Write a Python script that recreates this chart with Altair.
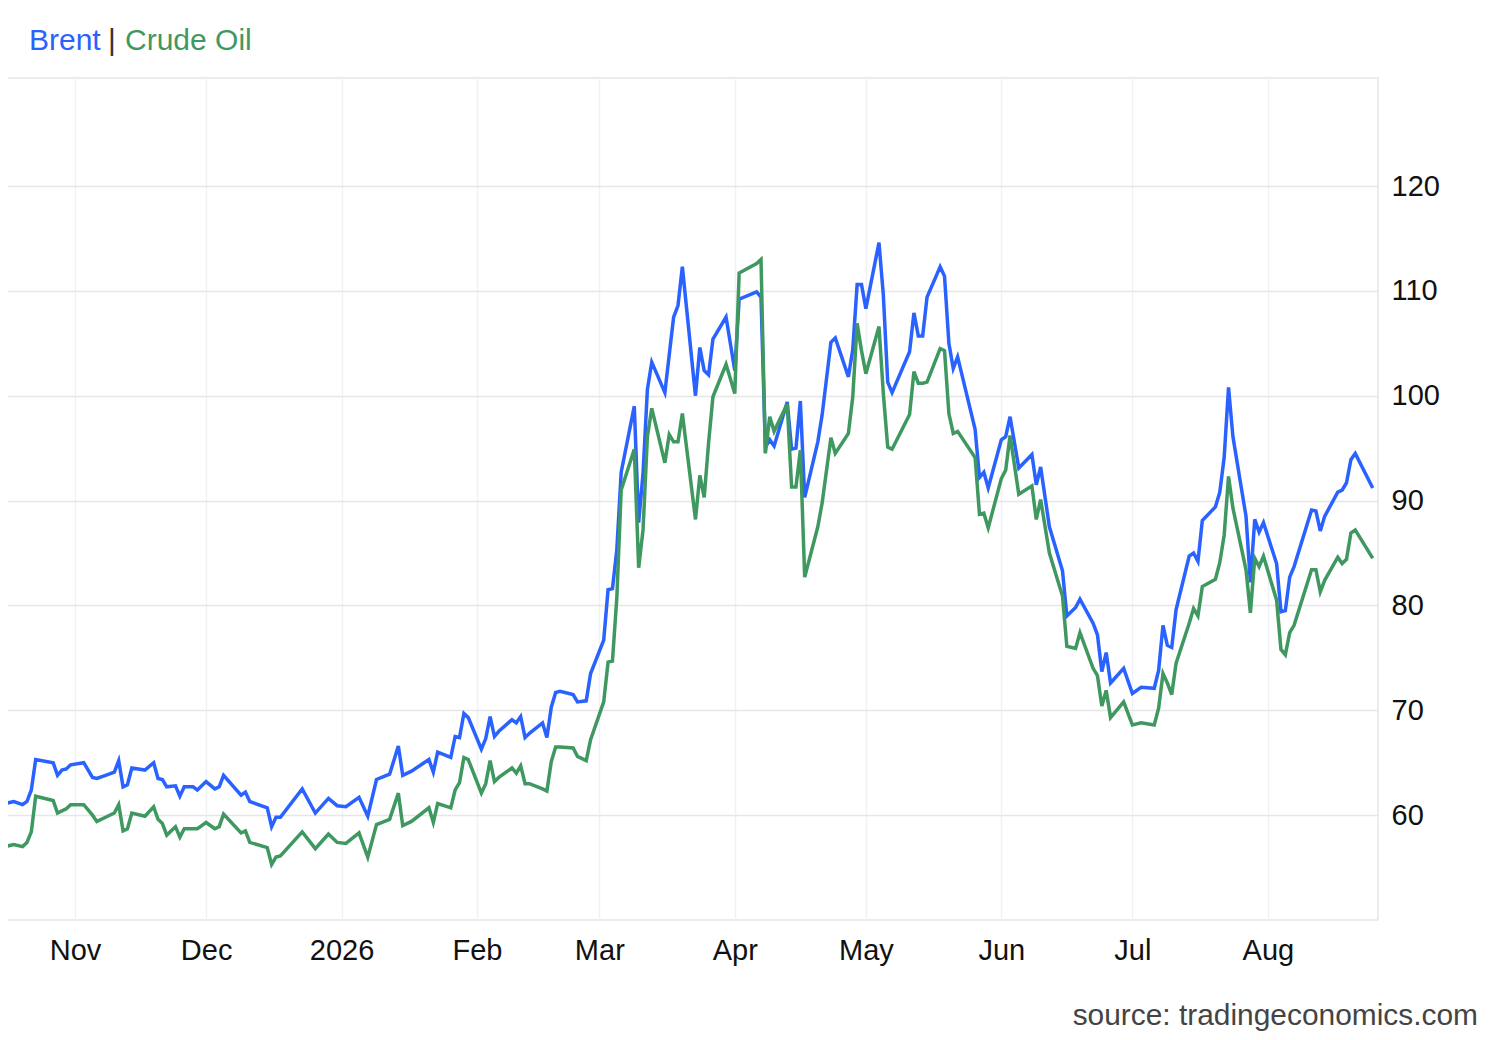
import altair as alt
import pandas as pd

# ---- data ----
dates = [
    "2025-10-15", "2025-10-16", "2025-10-18", "2025-10-20", "2025-10-21", "2025-10-22", "2025-10-23",
    "2025-10-27", "2025-10-28", "2025-10-29", "2025-10-30", "2025-10-31",
    "2025-11-03", "2025-11-05", "2025-11-06", "2025-11-08", "2025-11-10", "2025-11-11", "2025-11-12",
    "2025-11-13", "2025-11-14", "2025-11-17", "2025-11-19", "2025-11-20", "2025-11-21", "2025-11-22",
    "2025-11-24", "2025-11-25", "2025-11-26", "2025-11-28", "2025-11-29", "2025-11-30",
    "2025-12-01", "2025-12-03", "2025-12-04", "2025-12-05", "2025-12-09", "2025-12-10", "2025-12-11",
    "2025-12-15", "2025-12-16", "2025-12-17", "2025-12-18", "2025-12-23", "2025-12-26", "2025-12-29",
    "2025-12-31",
    "2026-01-02", "2026-01-05", "2026-01-07", "2026-01-09", "2026-01-12", "2026-01-14", "2026-01-15",
    "2026-01-17", "2026-01-21", "2026-01-22", "2026-01-23", "2026-01-26", "2026-01-27", "2026-01-28",
    "2026-01-29", "2026-01-30",
    "2026-02-02", "2026-02-03", "2026-02-04", "2026-02-05", "2026-02-06", "2026-02-09", "2026-02-10",
    "2026-02-11", "2026-02-12", "2026-02-13", "2026-02-16", "2026-02-17", "2026-02-18", "2026-02-19",
    "2026-02-20", "2026-02-23", "2026-02-24", "2026-02-26", "2026-02-27",
    "2026-03-02", "2026-03-03", "2026-03-04", "2026-03-05", "2026-03-06", "2026-03-09", "2026-03-10",
    "2026-03-11", "2026-03-12", "2026-03-13", "2026-03-16", "2026-03-17", "2026-03-18", "2026-03-19",
    "2026-03-20", "2026-03-23", "2026-03-24", "2026-03-25", "2026-03-26", "2026-03-27", "2026-03-30",
    "2026-04-01", "2026-04-02", "2026-04-06", "2026-04-07", "2026-04-08", "2026-04-09", "2026-04-10",
    "2026-04-13", "2026-04-14", "2026-04-15", "2026-04-16", "2026-04-17", "2026-04-20", "2026-04-21",
    "2026-04-23", "2026-04-24", "2026-04-27", "2026-04-28", "2026-04-29", "2026-04-30",
    "2026-05-01", "2026-05-04", "2026-05-05", "2026-05-06", "2026-05-07", "2026-05-11", "2026-05-12",
    "2026-05-13", "2026-05-14", "2026-05-15", "2026-05-18", "2026-05-19", "2026-05-20", "2026-05-21",
    "2026-05-22", "2026-05-26", "2026-05-27", "2026-05-28", "2026-05-29",
    "2026-06-01", "2026-06-02", "2026-06-03", "2026-06-05", "2026-06-08", "2026-06-09", "2026-06-10",
    "2026-06-12", "2026-06-15", "2026-06-16", "2026-06-18", "2026-06-19", "2026-06-22", "2026-06-23",
    "2026-06-24", "2026-06-25", "2026-06-26", "2026-06-29",
    "2026-07-01", "2026-07-03", "2026-07-06", "2026-07-07", "2026-07-08", "2026-07-09", "2026-07-10",
    "2026-07-11", "2026-07-14", "2026-07-15", "2026-07-16", "2026-07-17", "2026-07-20", "2026-07-21",
    "2026-07-22", "2026-07-23", "2026-07-24", "2026-07-27", "2026-07-28", "2026-07-29", "2026-07-30",
    "2026-07-31",
    "2026-08-03", "2026-08-04", "2026-08-05", "2026-08-06", "2026-08-07", "2026-08-11", "2026-08-12",
    "2026-08-13", "2026-08-14", "2026-08-17", "2026-08-18", "2026-08-19", "2026-08-20", "2026-08-21",
    "2026-08-25",
]

brent = [
    # Oct
    62.6, 61.1, 61.3, 61.0, 61.3, 62.4, 65.3, 65.0, 63.8, 64.3, 64.4, 64.8,
    # Nov
    65.0, 63.6, 63.5, 63.8, 64.1, 65.2, 62.7, 62.9, 64.5, 64.3, 65.0, 63.5, 63.4, 62.7,
    62.8, 61.8, 62.7, 62.7, 62.4, 62.8,
    # Dec
    63.2, 62.5, 62.7, 63.8, 61.9, 62.2, 61.3, 60.7, 58.9, 59.8, 59.8, 62.5, 60.2, 61.6, 60.9,
    # Jan
    60.8, 61.7, 59.9, 63.4, 63.9, 66.6, 63.8, 64.2, 65.3, 64.1, 66.0, 65.5, 67.5, 67.4, 69.7, 69.3,
    # Feb
    66.3, 67.3, 69.4, 67.5, 68.0, 69.1, 68.8, 69.4, 67.4, 67.8, 68.8, 67.4, 70.3, 71.7, 71.8,
    71.5, 70.8, 70.9, 73.5,
    # Mar
    76.7, 81.5, 81.6, 85.3, 92.7, 99.0, 87.9, 92.6, 100.6, 103.2, 100.3, 103.9, 107.5, 108.6,
    112.3, 100.0, 104.6, 102.4, 102.0, 105.4, 107.5,
    # Apr
    102.4, 109.2, 109.9, 109.4, 95.1, 95.8, 95.2, 99.4, 94.9, 95.0, 99.5, 90.3, 95.6, 98.2,
    105.1, 105.5, 101.8, 104.4, 110.6, 110.6,
    # May
    108.3, 114.6, 109.6, 101.3, 100.3, 104.2, 107.9, 105.7, 105.7, 109.4, 112.3, 111.4, 105.0,
    102.6, 103.7, 96.8, 92.2, 92.7, 91.2,
    # Jun
    95.8, 96.1, 98.0, 93.1, 94.4, 91.5, 93.2, 87.5, 83.3, 79.0, 79.8, 80.6, 78.3, 77.2, 73.7,
    75.5, 72.6, 74.0,
    # Jul
    71.6, 72.2, 72.1, 73.8, 78.1, 76.2, 76.0, 79.6, 84.7, 85.0, 84.2, 88.1, 89.4, 90.8, 94.1,
    100.8, 96.1, 88.5, 82.2, 88.2, 87.0, 87.9,
    # Aug
    84.0, 79.4, 79.5, 82.7, 83.7, 89.1, 89.0, 87.1, 88.5, 90.8, 91.0, 91.7, 93.9, 94.5, 91.2,
]

crude = [
    # Oct
    58.8, 57.0, 57.2, 57.0, 57.4, 58.4, 61.8, 61.4, 60.2, 60.4, 60.6, 61.0,
    # Nov
    61.0, 60.0, 59.4, 59.8, 60.2, 61.0, 58.5, 58.7, 60.2, 59.9, 60.8, 59.6, 59.2, 58.1,
    58.9, 57.9, 58.7, 58.7, 58.7, 59.0,
    # Dec
    59.3, 58.7, 58.9, 60.1, 58.3, 58.5, 57.4, 56.9, 55.3, 56.0, 56.1, 58.4, 56.8, 58.2, 57.4,
    # Jan
    57.3, 58.3, 56.0, 59.1, 59.6, 62.1, 59.0, 59.4, 60.7, 59.3, 61.1, 60.7, 62.4, 63.1, 65.5, 65.3,
    # Feb
    62.1, 63.0, 65.2, 63.2, 63.6, 64.5, 64.0, 64.7, 63.0, 63.0, 62.5, 62.3, 65.1, 66.5, 66.5,
    66.4, 65.6, 65.2, 67.2,
    # Mar
    70.8, 74.6, 74.7, 80.7, 91.0, 94.9, 83.6, 87.2, 96.1, 98.8, 93.6, 96.3, 95.6, 95.6, 98.3,
    88.2, 92.4, 90.3, 95.5, 99.9, 103.0,
    # Apr
    100.2, 111.7, 112.6, 113.0, 94.5, 98.0, 96.6, 99.2, 91.3, 91.3, 94.8, 82.7, 87.5, 89.8,
    96.0, 94.5, 96.4, 99.9, 106.9, 104.3,
    # May
    102.1, 106.6, 100.2, 95.1, 94.9, 98.2, 102.3, 101.2, 101.2, 101.3, 104.5, 104.3, 98.3,
    96.4, 96.6, 94.1, 88.7, 88.8, 87.4,
    # Jun
    92.1, 92.9, 96.2, 90.6, 91.4, 88.2, 90.1, 85.0, 80.9, 76.1, 75.9, 77.4, 74.0, 73.3, 70.4,
    71.9, 69.3, 70.8,
    # Jul
    68.6, 68.8, 68.6, 70.2, 73.5, 72.6, 71.5, 74.5, 78.3, 79.7, 79.0, 81.8, 82.5, 84.1, 86.7,
    92.3, 89.3, 83.4, 79.3, 84.5, 83.7, 84.7,
    # Aug
    80.5, 75.8, 75.3, 77.4, 78.1, 83.4, 83.4, 81.3, 82.4, 84.6, 84.0, 84.4, 86.9, 87.2, 84.5,
]

if not (len(dates) == len(brent) == len(crude)):
    raise ValueError(f"length mismatch {len(dates)} {len(brent)} {len(crude)}")

y_ticks = [60, 70, 80, 90, 100, 110, 120]
month_ticks = [(2025, 11), (2025, 12), (2026, 1), (2026, 2), (2026, 3), (2026, 4),
               (2026, 5), (2026, 6), (2026, 7), (2026, 8)]

BLUE = "#2962ff"
GREEN = "#3f9860"
FONT = "Liberation Sans"

df = pd.DataFrame({"date": dates, "Brent": brent, "Crude Oil": crude})

x_scale = alt.Scale(
    type="utc",
    domain=[alt.DateTime(year=2025, month=10, date=14, hours=20, utc=True),
            alt.DateTime(year=2026, month=8, date=26, hours=5, utc=True)],
)
y_scale = alt.Scale(domain=[50, 130.3], nice=False, zero=False)

x_axis = alt.Axis(
    title=None,
    values=[alt.DateTime(year=y, month=m, date=1, utc=True) for y, m in month_ticks],
    labelExpr="utcFormat(datum.value, '%m') == '01' ? utcFormat(datum.value, '%Y') : utcFormat(datum.value, '%b')",
    grid=True, gridColor="#eef1f5", gridWidth=1.5,
    domain=False, ticks=False, tickSize=0,
    labelFontSize=29, labelColor="#111111", labelPadding=16, labelFont=FONT,
)
y_axis = alt.Axis(
    title=None, orient="right", values=y_ticks,
    grid=True, gridColor="#e6e6e6", gridWidth=1.5,
    domain=False, ticks=False, tickSize=0,
    labelFontSize=29, labelColor="#111111", labelPadding=13, labelFont=FONT,
)

base = alt.Chart(df)
brent_line = base.mark_line(color=BLUE, strokeWidth=3.5, clip=True).encode(
    x=alt.X("date:T", scale=x_scale, axis=x_axis),
    y=alt.Y("Brent:Q", scale=y_scale, axis=y_axis),
)
crude_line = base.mark_line(color=GREEN, strokeWidth=3.5, clip=True).encode(
    x=alt.X("date:T", scale=x_scale),
    y=alt.Y("Crude Oil:Q", scale=y_scale),
)

title_brent = alt.Chart(pd.DataFrame({"t": ["Brent"]})).mark_text(
    align="left", baseline="alphabetic", fontSize=30, color=BLUE, font=FONT
).encode(x=alt.value(29), y=alt.value(-28), text="t:N")
title_sep = alt.Chart(pd.DataFrame({"t": ["|"]})).mark_text(
    align="left", baseline="alphabetic", fontSize=30, color="#333333", font=FONT
).encode(x=alt.value(108), y=alt.value(-28), text="t:N")
title_crude = alt.Chart(pd.DataFrame({"t": ["Crude Oil"]})).mark_text(
    align="left", baseline="alphabetic", fontSize=30, color=GREEN, font=FONT
).encode(x=alt.value(125), y=alt.value(-28), text="t:N")
source = alt.Chart(pd.DataFrame({"t": ["source: tradingeconomics.com"]})).mark_text(
    align="right", baseline="alphabetic", fontSize=29.9, color="#444444", font=FONT
).encode(x=alt.value(1478), y=alt.value(947), text="t:N")

chart = alt.layer(
    brent_line, crude_line, title_brent, title_sep, title_crude, source
).properties(
    width=1378,
    height=842,
    autosize=alt.AutoSizeParams(type="none"),
    padding={"left": -8, "top": 70, "right": 104, "bottom": 112},
).configure(font=FONT).configure_view(stroke="#e6e6e6", strokeWidth=1.5)

chart.save("out.html", embed_options={"renderer": "svg", "actions": False})
